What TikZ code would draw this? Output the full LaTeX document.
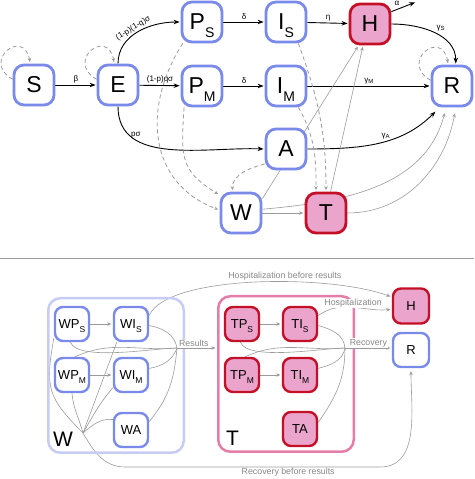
\documentclass[tikz,border=0pt]{standalone}
\usepackage{fontspec}
\setmainfont{Liberation Sans}
\usetikzlibrary{positioning}
\usetikzlibrary{calc}
\usetikzlibrary{arrows.meta}
\usetikzlibrary{backgrounds}

\definecolor{compblue}{RGB}{122,138,234}
\definecolor{hospred}{RGB}{196,16,38}
\definecolor{hosppink}{RGB}{235,165,205}
\definecolor{waitblue}{RGB}{200,204,244}
\definecolor{testpink}{RGB}{226,126,168}
\definecolor{linkgray}{RGB}{155,155,155}
\definecolor{notegray}{RGB}{135,135,135}

\newcommand{\bigsub}[2]{#1\raisebox{-8pt}[0pt][0pt]{\fontsize{14}{14}\selectfont #2}}
\newcommand{\smallsub}[2]{#1\raisebox{-4pt}[0pt][0pt]{\fontsize{8.5}{8.5}\selectfont #2}}

\begin{document}
\begin{tikzpicture}[x=1pt, y=1pt, node distance=84pt]

% Define styles for different elements
\tikzstyle{comp} = [rectangle, rounded corners=10pt, minimum width=40pt, minimum height=40pt, inner sep=0pt, line width=2.8pt, draw=compblue, fill=white, font=\fontsize{23}{23}\selectfont]
\tikzstyle{hosp} = [comp, draw=hospred, fill=hosppink]
\tikzstyle{subcomp} = [rectangle, rounded corners=8pt, minimum width=34pt, minimum height=34pt, inner sep=0pt, line width=2.4pt, draw=compblue, fill=white, font=\fontsize{13}{13}\selectfont]
\tikzstyle{subhosp} = [subcomp, draw=hospred, fill=hosppink]
\tikzstyle{panel} = [rectangle, rounded corners=12pt, minimum width=135.5pt, line width=2.5pt]
\tikzstyle{arrow} = [line width=0.9pt, ->, >={Stealth[length=6pt, width=4.5pt]}, shorten >=1pt]
\tikzstyle{link} = [line width=0.6pt, draw=linkgray, ->, >={Stealth[length=4pt, width=3.5pt]}, shorten >=1.5pt]
\tikzstyle{waiting} = [link, line width=0.8pt, dash pattern=on 4pt off 3pt]
\tikzstyle{feed} = [line width=0.6pt, draw=linkgray]
\tikzstyle{rate} = [font=\fontsize{8}{8}\selectfont, inner sep=1.5pt]
\tikzstyle{note} = [font=\fontsize{8.8}{8.8}\selectfont, text=notegray, inner sep=1pt]
\tikzstyle{cover} = [note, fill=white, inner sep=0.8pt]
\tikzstyle{biglabel} = [font=\fontsize{21}{21}\selectfont, inner sep=0pt]

\useasboundingbox (0,0) rectangle (474,479);

% Draw the nodes of the model
\node (S) [comp] at (34,394) {S};
\node (E) [comp, right of=S] {E};
\node (PM) [comp, right of=E, yshift=-1pt] {\bigsub{P}{M}};
\node (IM) [comp, right of=PM] {\bigsub{I}{M}};
\node (R) [comp, right of=IM, xshift=82pt] {R};
\node (PS) [comp, node distance=64pt, above of=PM] {\bigsub{P}{S}};
\node (IS) [comp, right of=PS] {\bigsub{I}{S}};
\node (H) [hosp, right of=IS, yshift=-2pt] {H};
\node (A) [comp, node distance=63pt, below of=IM] {A};
\node (W) [comp, node distance=64pt, below of=A, xshift=-45pt] {W};
\node (T) [hosp, node distance=85pt, right of=W] {T};
\coordinate (Hout) at (416,477);

% Separator between the two panels
\draw [draw=gray!80, line width=0.7pt] (0,221) -- (474,221);

% Draw the waiting and testing panels
\node (Wpanel) [panel, draw=waitblue, minimum height=154.5pt] at (116,103.5) {};
\node (Tpanel) [panel, draw=testpink, minimum height=155.5pt] at (286,105) {};
\node (Wtag) [biglabel, above right=7pt and 6pt of Wpanel.south west] {W};
\node (Ttag) [biglabel, above right=7pt and 9pt of Tpanel.south west] {T};

\node (WPS) [subcomp] at (72,155) {\smallsub{WP}{S}};
\node (WIS) [subcomp, node distance=59pt, right of=WPS] {\smallsub{WI}{S}};
\node (WPM) [subcomp, node distance=51pt, below of=WPS] {\smallsub{WP}{M}};
\node (WIM) [subcomp, node distance=59pt, right of=WPM] {\smallsub{WI}{M}};
\node (WA) [subcomp, node distance=55pt, below of=WIM] {WA};

\node (TPS) [subhosp] at (242,155) {\smallsub{TP}{S}};
\node (TIS) [subhosp, node distance=58pt, right of=TPS] {\smallsub{TI}{S}};
\node (TPM) [subhosp, node distance=51pt, below of=TPS] {\smallsub{TP}{M}};
\node (TIM) [subhosp, node distance=58pt, right of=TPM] {\smallsub{TI}{M}};
\node (TA) [subhosp, node distance=54pt, below of=TIM] {TA};

\node (H2) [subhosp, minimum width=36pt, minimum height=35pt] at (411,173) {H};
\node (R2) [subcomp, minimum width=36pt, node distance=44pt, below of=H2] {R};

\coordinate (reshub) at (177,131);
\coordinate (whub) at (83,46);
\coordinate (rhub) at (345,131);
\coordinate (recleft) at (125,12);
\coordinate (recright) at (380,12);

\begin{pgfonlayer}{background}
% Draw the arrows
\draw [arrow] (S) -- node[rate, above] {β} (E);
\draw [arrow] (E.north) to[out=90, in=180] node[rate, sloped, above, pos=0.47] {(1-p)(1-q)σ} (PS.west);
\draw [arrow] (E) -- node[rate, above] {(1-p)qσ} (PM);
\draw [arrow] (E.south) to[out=-90, in=178] node[rate, above, pos=0.28] {pσ} (A.west);
\draw [arrow] (PS) -- node[rate, above] {δ} (IS);
\draw [arrow] (PM) -- node[rate, above] {δ} (IM);
\draw [arrow] (IS) -- node[rate, above] {η} (H);
\draw [arrow] (H.30) -- node[rate, above left, pos=0.4] {α} (Hout);
\draw [arrow] (H.east) to[out=0, in=90] node[rate, above right, pos=0.5] {γ\textsubscript{S}} (R.80);
\draw [arrow] (IM) -- node[rate, above] {γ\textsubscript{M}} (R);
\draw [arrow, shorten >=6pt] (A.east) to[out=0, in=-135] node[rate, above, pos=0.55] {γ\textsubscript{A}} (R.-120);

% Waiting for a test
\draw [waiting] (S.165) to[out=150, in=100, looseness=4] (S.100);
\draw [waiting] (E.165) to[out=150, in=100, looseness=4] (E.100);
\draw [waiting] (R.165) to[out=150, in=100, looseness=4] (R.100);
\draw [waiting] (PS.228) .. controls +(-42,-66) and +(-70,26) .. (W.172);
\draw [waiting] (PM.230) .. controls +(-3,-50) and +(-40,25) .. (W.140);
\draw [waiting] (A.215) to[out=195, in=90] (W.112);
\draw [waiting] (IS.300) to[out=-70, in=90] (T.90);
\draw [waiting] (IM.300) to[out=-60, in=90] (T.115);

% Flows out of W and T
\draw [link] (W.34) -- (H.-118);
\draw [link] (T.78) -- (H.-108);
\draw [link] (W) -- (T);
\draw [link, shorten >=6pt] (W.10) to[out=5, in=-105] (R.-105);
\draw [link, shorten >=6pt] (T.east) to[out=0, in=-100] (R.-80);

% Inside the panels
\draw [link] (WPS) -- (WIS);
\draw [link] (WPM) -- (WIM);
\draw [link] (TPS) -- (TIS);
\draw [link] (TPM) -- (TIM);

\draw [feed] (WPS.-95) to[out=-70, in=180, looseness=0.5] (reshub);
\draw [feed] (WPM.80) to[out=25, in=185] (reshub);
\draw [feed] (WIS.-5) to[out=-10, in=100] (reshub);
\draw [feed] (WIM.20) to[out=10, in=-110] (reshub);
\draw [feed] (WA.25) to[out=50, in=-95] (reshub);

\draw [feed] (WPS.218) to[out=-100, in=135, looseness=1.3] (whub);
\draw [feed] (WPM.south) to[out=-85, in=105] (whub);
\draw [feed] (WIS.232) -- (whub);
\draw [feed] (WIM.215) to[out=-130, in=60] (whub);
\draw [feed] (WA.150) to[out=175, in=40] (whub);
\draw [link, shorten >=3pt] (whub) to[out=-60, in=180] (recleft) -- node[note, below, pos=0.64] {Recovery before results} (recright) to[out=0, in=-90] (R2.south);
\draw [link] (WIS.25) .. controls +(18,41) and +(-62,23) .. node[note, above, pos=0.6] {Hospitalization before results} (H2.155);

\draw [feed] (TPS.-95) to[out=-70, in=180, looseness=0.5] (rhub);
\draw [feed] (TPM.80) to[out=25, in=185] (rhub);
\draw [feed] (TIS.-5) to[out=-15, in=95] (rhub);
\draw [feed] (TIM.20) to[out=15, in=-100] (rhub);
\draw [feed] (TA.20) to[out=55, in=-90] (rhub);
\end{pgfonlayer}

% Labelled flows that cross the panel borders
\draw [link] (reshub) -- node[cover, above, pos=0.42] {Results} (reshub -| Tpanel.west);
\draw [link] (rhub) -- node[cover, above] {Recovery} (rhub -| R2.west);
\draw [link] (TIS.25) to[out=35, in=185] node[cover, above, pos=0.5, yshift=-1.5pt] {Hospitalization} (H2.190);

\end{tikzpicture}
\end{document}
